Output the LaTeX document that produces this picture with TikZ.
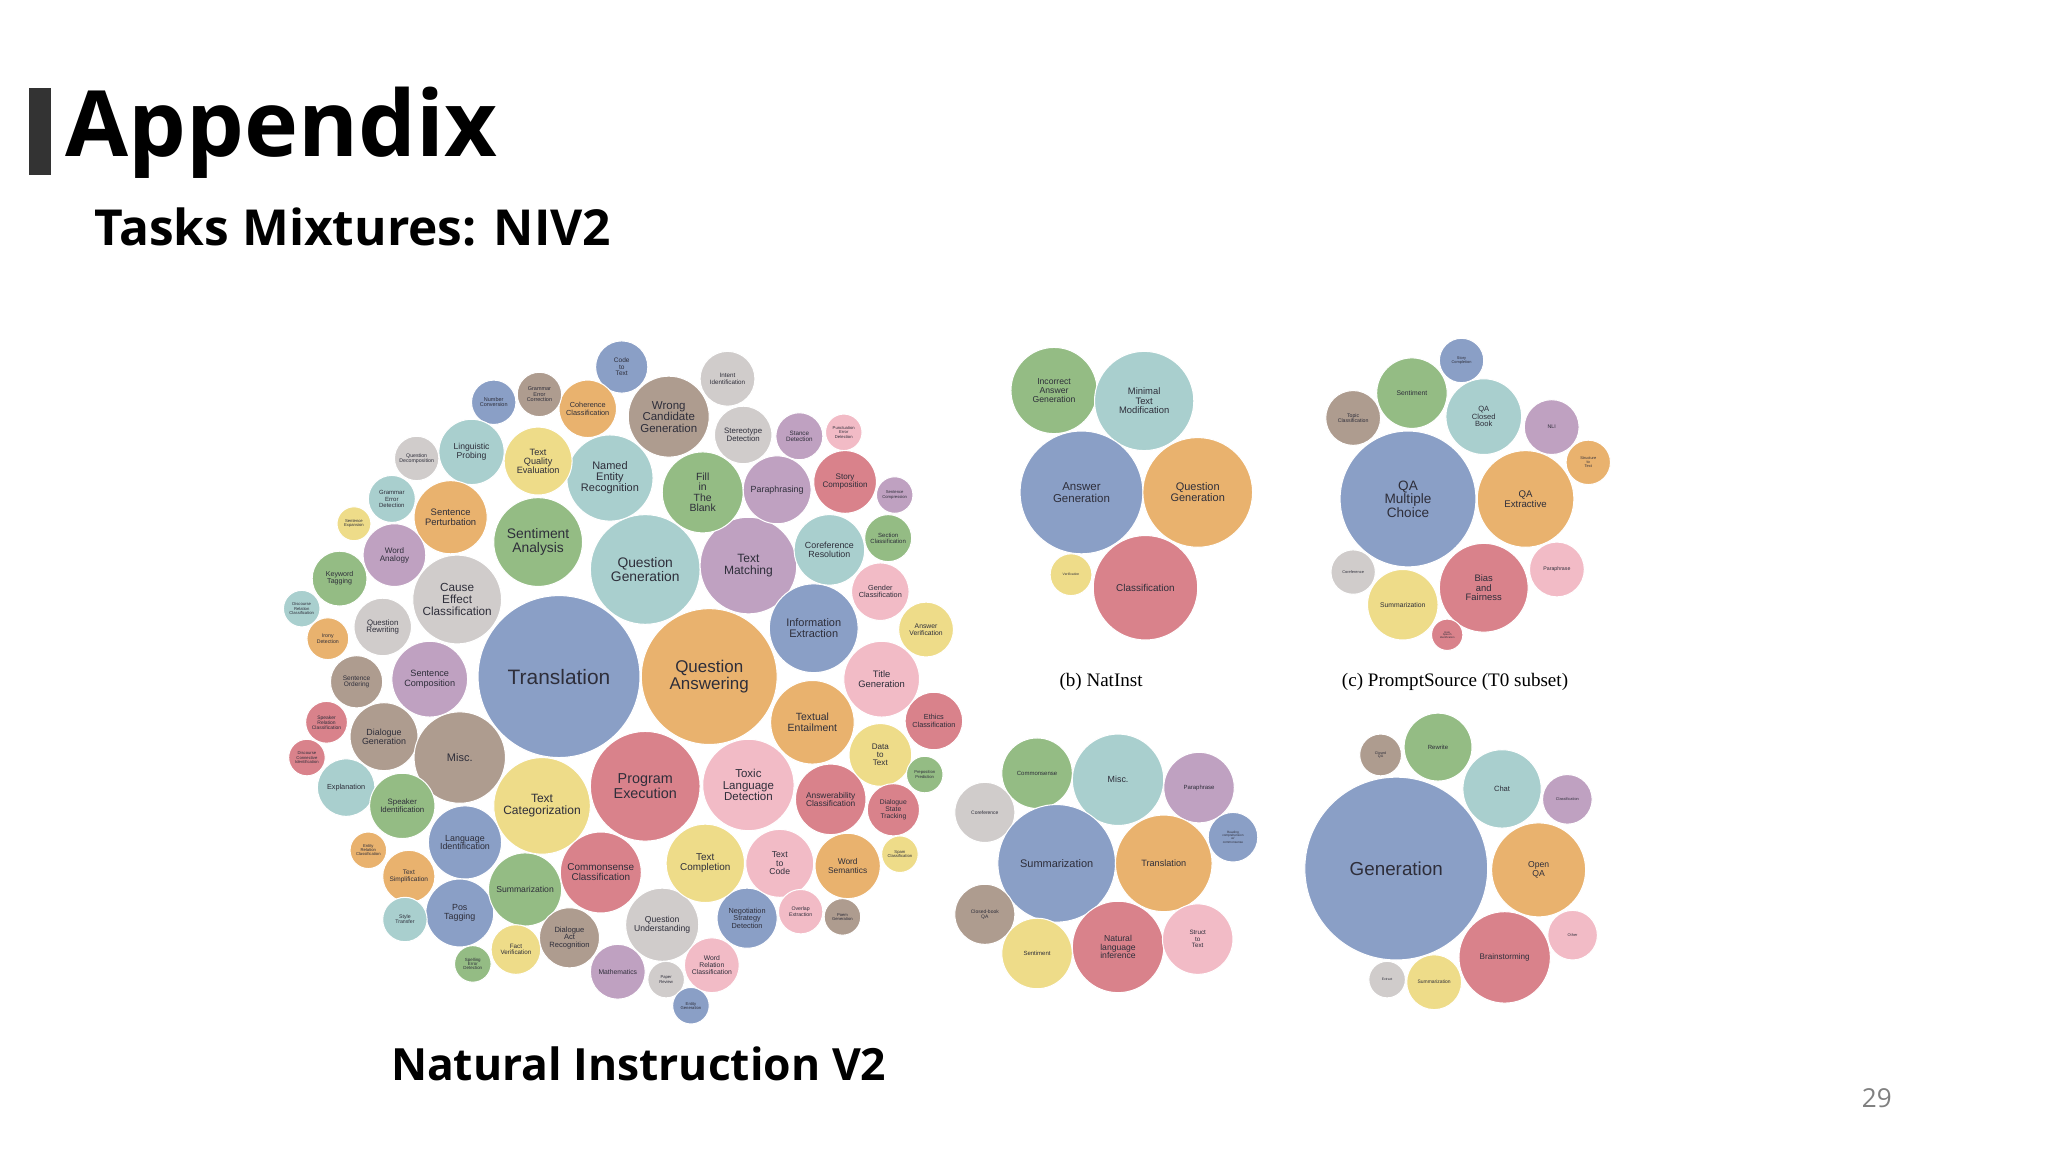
\documentclass[tikz,border=0pt]{standalone}
\usepackage{fontspec}
\setmainfont{Liberation Sans}
\newfontfamily\titlefont{Open Sans}
\newfontfamily\capfont{Liberation Serif}
\definecolor{cB}{HTML}{8A9FC6}
\definecolor{cO}{HTML}{E9B26E}
\definecolor{cG}{HTML}{94BC84}
\definecolor{cT}{HTML}{A9CFCE}
\definecolor{cY}{HTML}{EEDC89}
\definecolor{cR}{HTML}{D9828B}
\definecolor{cP}{HTML}{F2BBC6}
\definecolor{cV}{HTML}{BFA1C1}
\definecolor{cN}{HTML}{AE9C8F}
\definecolor{cW}{HTML}{D0CCCB}
\definecolor{txt}{HTML}{2E2E3A}
\newcommand{\bub}[7]{\node[circle,fill=#5,draw=white,line width=0.4pt,minimum size=#4 pt,inner sep=0pt,align=center,text=txt,font=\fontsize{#6}{#6}\selectfont] (#1) at (#2,#3) {#7};}
\begin{document}
\begin{tikzpicture}[x=0.5pt,y=-0.5pt]
\useasboundingbox (0,0) rectangle (1568,882);
\fill[white] (0,0) rectangle (1568,882);
% title
\fill[black!80] (22,67) rectangle (39,134);
\node[anchor=base west,inner sep=0,font=\titlefont\bfseries\fontsize{35}{35}\selectfont] (title) at (50,120) {Appendix};
\node[anchor=base west,inner sep=0,font=\titlefont\bfseries\fontsize{19}{19}\selectfont] (sub) at (72,188) {Tasks Mixtures: NIV2};
\node[anchor=base,inner sep=0,font=\titlefont\bfseries\fontsize{17}{17}\selectfont] (niv) at (489,827) {Natural Instruction V2};
\node[anchor=base,inner sep=0,text=black!50,font=\titlefont\fontsize{10}{10}\selectfont] (pg) at (1437,848) {29};
% main chart
\bub{tr}{428}{518}{62}{cB}{8}{Translation}
\bub{qa}{543}{518}{52}{cO}{6.5}{Question\\Answering}
\bub{sa}{412}{415}{34}{cG}{5.3}{Sentiment\\Analysis}
\bub{qg}{494}{436}{42}{cT}{5.3}{Question\\Generation}
\bub{cec}{350}{459}{34}{cW}{4.5}{Cause\\Effect\\Classification}
\bub{tm}{573}{433}{37}{cV}{4.6}{Text\\Matching}
\bub{ner}{467}{366}{33}{cT}{4.2}{Named\\Entity\\Recognition}
\bub{wcg}{512}{319}{31}{cN}{4.4}{Wrong\\Candidate\\Generation}
\bub{c2t}{476}{281}{20}{cB}{2.5}{Code\\to\\Text}
\bub{ii}{557}{290}{21}{cW}{2.4}{Intent\\Identification}
\bub{tqe}{412}{353}{26}{cY}{3.5}{Text\\Quality\\Evaluation}
\bub{coh}{450}{313}{22}{cO}{2.8}{Coherence\\Classification}
\bub{gec}{413}{302}{17}{cN}{2.1}{Grammar\\Error\\Correction}
\bub{nc}{378}{308}{17}{cB}{2.1}{Number\\Conversion}
\bub{lp}{361}{346}{25}{cT}{3.3}{Linguistic\\Probing}
\bub{qd}{319}{351}{17}{cW}{2}{Question\\Decomposition}
\bub{sp}{345}{396}{28}{cO}{3.6}{Sentence\\Perturbation}
\bub{ged}{300}{382}{18}{cT}{2.3}{Grammar\\Error\\Detection}
\bub{se}{271}{401}{13}{cY}{1.6}{Sentence\\Expansion}
\bub{wa}{302}{425}{24}{cV}{3.1}{Word\\Analogy}
\bub{kt}{260}{443}{21}{cG}{2.7}{Keyword\\Tagging}
\bub{drc}{231}{466}{14}{cT}{1.6}{Discourse\\Relation\\Classification}
\bub{qr}{293}{480}{22}{cW}{3}{Question\\Rewriting}
\bub{id}{251}{489}{16}{cO}{2}{Irony\\Detection}
\bub{so}{273}{522}{20}{cN}{2.5}{Sentence\\Ordering}
\bub{sc}{329}{520}{29}{cV}{3.5}{Sentence\\Composition}
\bub{src}{250}{553}{16}{cR}{1.9}{Speaker\\Relation\\Classification}
\bub{dg}{294}{564}{26}{cN}{3.4}{Dialogue\\Generation}
\bub{dci}{235}{580}{14}{cR}{1.6}{Discourse\\Connective\\Identification}
\bub{misc}{352}{580}{35}{cN}{4.2}{Misc.}
\bub{ex}{265}{603}{22}{cT}{2.8}{Explanation}
\bub{si}{308}{617}{25}{cG}{3}{Speaker\\Identification}
\bub{li}{356}{645}{28}{cB}{3.4}{Language\\Identification}
\bub{tc}{415}{617}{37}{cY}{4.6}{Text\\Categorization}
\bub{erc}{282}{651}{14}{cO}{1.6}{Entity\\Relation\\Classification}
\bub{ts}{313}{671}{20}{cO}{2.5}{Text\\Simplification}
\bub{pos}{352}{699}{26}{cB}{3.4}{Pos\\Tagging}
\bub{st}{310}{704}{17}{cT}{2}{Style\\Transfer}
\bub{sum}{402}{681}{28}{cG}{3.3}{Summarization}
\bub{sed}{362}{738}{14}{cG}{1.7}{Spelling\\Error\\Detection}
\bub{fv}{395}{727}{19}{cY}{2.4}{Fact\\Verification}
\bub{dar}{436}{718}{23}{cN}{2.9}{Dialogue\\Act\\Recognition}
\bub{csc}{460}{668}{31}{cR}{3.8}{Commonsense\\Classification}
\bub{math}{473}{744}{21}{cV}{2.6}{Mathematics}
\bub{pr}{510}{750}{14}{cW}{1.6}{Paper\\Review}
\bub{qu}{507}{708}{28}{cW}{3.3}{Question\\Understanding}
\bub{eg}{529}{770}{14}{cB}{1.6}{Entity\\Generation}
\bub{wrc}{545}{739}{21}{cP}{2.6}{Word\\Relation\\Classification}
\bub{nsd}{572}{703}{23}{cB}{2.8}{Negotiation\\Strategy\\Detection}
\bub{tcomp}{540}{661}{30}{cY}{3.8}{Text\\Completion}
\bub{pe}{494}{602}{42}{cR}{5.5}{Program\\Execution}
\bub{tld}{573}{601}{35}{cP}{4.4}{Toxic\\Language\\Detection}
\bub{t2c}{597}{661}{26}{cP}{3.3}{Text\\to\\Code}
\bub{oe}{613}{698}{17}{cP}{2}{Overlap\\Extraction}
\bub{pg2}{645}{702}{14}{cN}{1.6}{Poem\\Generation}
\bub{ws}{649}{663}{25}{cO}{3.2}{Word\\Semantics}
\bub{ac}{636}{612}{27}{cR}{3.2}{Answerability\\Classification}
\bub{te}{622}{553}{32}{cO}{4}{Textual\\Entailment}
\bub{ie}{623}{481}{34}{cB}{4.2}{Information\\Extraction}
\bub{cr}{635}{421}{27}{cT}{3.4}{Coreference\\Resolution}
\bub{fib}{538}{377}{31}{cG}{4}{Fill\\in\\The\\Blank}
\bub{sd}{569}{333}{22}{cW}{3}{Stereotype\\Detection}
\bub{std}{612}{334}{18}{cV}{2.4}{Stance\\Detection}
\bub{ped}{646}{331}{14}{cP}{1.6}{Punctuation\\Error\\Detection}
\bub{para}{595}{375}{26}{cV}{3.4}{Paraphrasing}
\bub{scomp}{647}{369}{24}{cR}{3.1}{Story\\Composition}
\bub{scmp}{685}{379}{14}{cV}{1.6}{Sentence\\Compression}
\bub{secc}{680}{412}{18}{cG}{2.3}{Section\\Classification}
\bub{gc}{674}{453}{22}{cP}{2.8}{Gender\\Classification}
\bub{av}{709}{482}{21}{cY}{2.6}{Answer\\Verification}
\bub{tg}{675}{520}{29}{cP}{3.6}{Title\\Generation}
\bub{ec}{715}{552}{22}{cR}{2.8}{Ethics\\Classification}
\bub{d2t}{674}{578}{24}{cY}{3.1}{Data\\to\\Text}
\bub{pp}{708}{593}{14}{cG}{1.6}{Preposition\\Prediction}
\bub{dst}{684}{620}{20}{cR}{2.6}{Dialogue\\State\\Tracking}
\bub{spam}{689}{654}{14}{cY}{1.6}{Spam\\Classification}
% (b) NatInst
\bub{iag}{807}{299}{33}{cG}{3.3}{Incorrect\\Answer\\Generation}
\bub{mtm}{876}{307}{38}{cT}{3.6}{Minimal\\Text\\Modification}
\bub{ag}{828}{377}{47}{cB}{4.4}{Answer\\Generation}
\bub{nqg}{917}{377}{42}{cO}{4.2}{Question\\Generation}
\bub{ver}{820}{440}{16}{cY}{1.3}{Verification}
\bub{cls}{877}{450}{40}{cR}{3.8}{Classification}
\node[inner sep=0,font=\capfont\fontsize{7.3}{7.3}\selectfont] (capb) at (843,522) {(b) N\textsc{at}I\textsc{nst}};
% (c) PromptSource
\bub{stc}{1119}{276}{17}{cB}{1.5}{Story\\Completion}
\bub{psent}{1081}{301}{27}{cG}{2.6}{Sentiment}
\bub{topc}{1036}{320}{21}{cN}{2}{Topic\\Classification}
\bub{qacb}{1136}{319}{29}{cT}{2.9}{QA\\Closed\\Book}
\bub{nli}{1188}{327}{21}{cV}{2}{NLI}
\bub{s2t}{1216}{354}{17}{cO}{1.5}{Structure\\to\\Text}
\bub{qamc}{1078}{382}{52}{cB}{5.2}{QA\\Multiple\\Choice}
\bub{qaex}{1168}{382}{37}{cO}{3.7}{QA\\Extractive}
\bub{pcoref}{1036}{438}{17}{cW}{1.5}{Coreference}
\bub{ppara}{1192}{436}{21}{cP}{2}{Paraphrase}
\bub{bias}{1136}{450}{34}{cR}{3.6}{Bias\\and\\Fairness}
\bub{psum}{1074}{463}{27}{cY}{2.6}{Summarization}
\bub{hate}{1108}{486}{12}{cR}{1}{Hate\\Speech\\Identification}
\node[inner sep=0,font=\capfont\fontsize{7.3}{7.3}\selectfont] (capc) at (1114,522) {(c) P\textsc{rompt}S\textsc{ource} (T0 subset)};
% lower middle
\bub{fcs}{794}{592}{27}{cG}{2.3}{Commonsense}
\bub{fmisc}{856}{597}{35}{cT}{3.4}{Misc.}
\bub{fpara}{918}{603}{27}{cV}{2.3}{Paraphrase}
\bub{fcoref}{754}{622}{23}{cW}{1.9}{Coreference}
\bub{frc}{944}{641}{19}{cB}{1.2}{Reading\\comprehension\\w/\\commonsense}
\bub{fsum}{809}{661}{45}{cB}{4.2}{Summarization}
\bub{ftr}{891}{661}{37}{cO}{3.5}{Translation}
\bub{fcb}{754}{700}{23}{cN}{1.9}{Closed-book\\QA}
\bub{fsent}{794}{730}{27}{cY}{2.3}{Sentiment}
\bub{fnli}{856}{725}{35}{cR}{3.3}{Natural\\language\\inference}
\bub{fs2t}{917}{719}{27}{cP}{2.4}{Struct\\to\\Text}
% lower right
\bub{cqa}{1057}{578}{16}{cN}{1.4}{Closed\\QA}
\bub{rw}{1101}{572}{26}{cG}{2.3}{Rewrite}
\bub{chat}{1150}{604}{30}{cT}{2.9}{Chat}
\bub{gcls}{1200}{612}{19}{cV}{1.5}{Classification}
\bub{gen}{1069}{665}{70}{cB}{7.2}{Generation}
\bub{oqa}{1178}{666}{36}{cO}{3.3}{Open\\QA}
\bub{oth}{1204}{716}{19}{cP}{1.5}{Other}
\bub{brain}{1152}{733}{35}{cR}{3.1}{Brainstorming}
\bub{gsum}{1098}{752}{21}{cY}{1.9}{Summarization}
\bub{extr}{1062}{750}{14}{cW}{1.3}{Extract}
\end{tikzpicture}
\end{document}
